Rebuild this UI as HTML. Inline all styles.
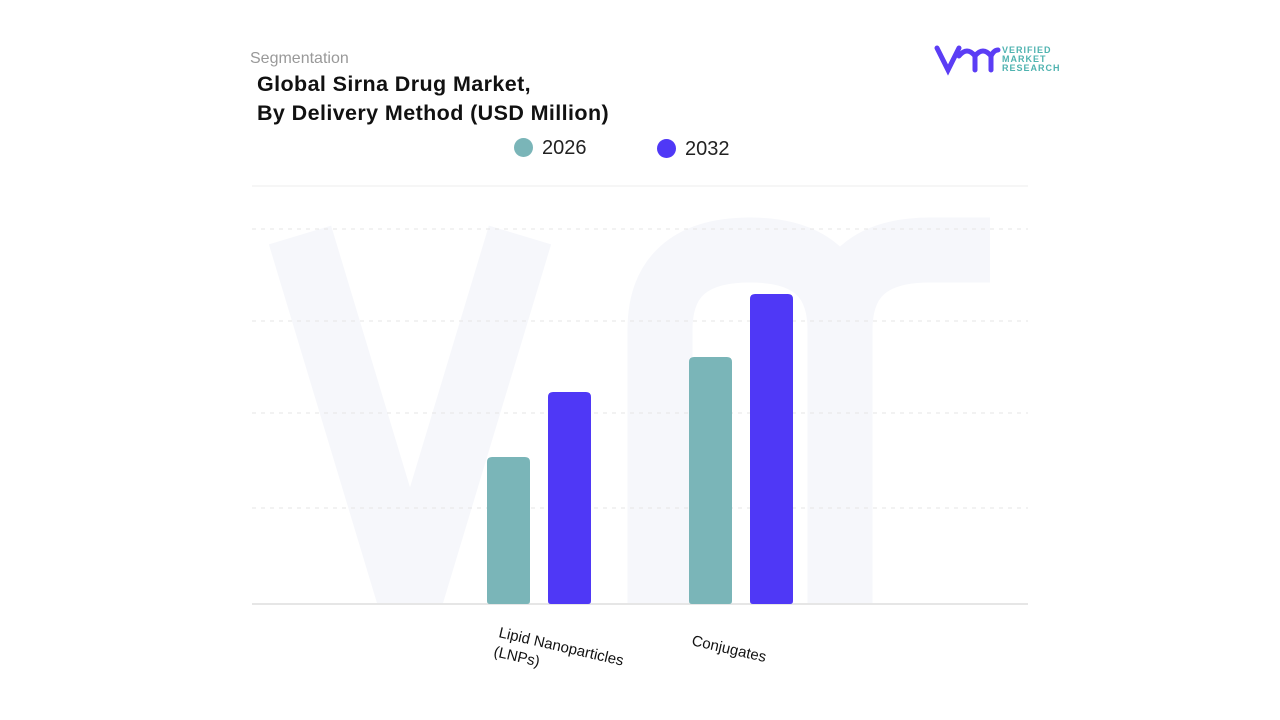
<!DOCTYPE html>
<html><head><meta charset="utf-8"><style>
body{margin:0;width:1280px;height:720px;background:#fff;font-family:"Liberation Sans",sans-serif;overflow:hidden;position:relative}
.t{position:absolute}
</style></head><body>
<div class="t" style="left:250px;top:50px;font-size:16px;color:#999">Segmentation</div>
<div class="t" style="left:257px;top:70px;font-size:21.5px;font-weight:bold;color:#111;line-height:29px;letter-spacing:0.4px">Global Sirna Drug Market,<br>By Delivery Method (USD Million)</div>
<svg class="t" style="left:934px;top:42px" width="130" height="34">
<path d="M3 6 L14 28 L25 6 M25 14 Q33 4 41 14 L41 28 M41 14 Q49 4 57 14 L57 28 M57 14 Q60 8 64 8" stroke="#5b3df5" stroke-width="5" fill="none" stroke-linecap="round"/>
<text x="68" y="11" font-size="9" fill="#4fb3b0" font-weight="bold" letter-spacing="1" font-family="Liberation Sans">VERIFIED</text>
<text x="68" y="20" font-size="9" fill="#4fb3b0" font-weight="bold" letter-spacing="1" font-family="Liberation Sans">MARKET</text>
<text x="68" y="29" font-size="9" fill="#4fb3b0" font-weight="bold" letter-spacing="1" font-family="Liberation Sans">RESEARCH</text>
</svg>
<div class="t" style="left:514px;top:137px;font-size:20px;color:#222"><span style="display:inline-block;width:19px;height:19px;border-radius:50%;background:#7ab5b8;vertical-align:-3px;margin-right:9px"></span>2026</div>
<div class="t" style="left:657px;top:138px;font-size:20px;color:#222"><span style="display:inline-block;width:19px;height:19px;border-radius:50%;background:#4f38f6;vertical-align:-3px;margin-right:9px"></span>2032</div>
<svg id="c" class="t" style="left:0;top:0" width="1280" height="720"><defs><clipPath id="cp"><rect x="250" y="190" width="780" height="414"/></clipPath></defs></svg>
<script>
const categories=["Lipid Nanoparticles (LNPs)","Conjugates"];
const series2026=[147,247];
const series2032=[212,310];
const gridVals=[96,191,283,375];
const ns="http://www.w3.org/2000/svg",svg=document.getElementById('c');
const base=604,x0=252,x1=1028;
const y=v=>base-v;
const cx=i=>539+i*202;
function mk(t,a){const e=document.createElementNS(ns,t);for(const k in a)e.setAttribute(k,a[k]);svg.appendChild(e);return e;}
const wm=mk('path',{d:"M300 235 L410 600 L520 235 M660 620 L660 330 Q660 250 750 250 Q840 250 840 330 L840 620 M840 330 Q840 250 930 250 L990 250",stroke:"#f6f7fb","stroke-width":"65",fill:"none","clip-path":"url(#cp)"});

let g=mk('line',{x1:x0,x2:x1,y1:186,y2:186,stroke:"#eee","stroke-width":1});

gridVals.forEach(v=>{const l=mk('line',{x1:x0,x2:x1,y1:y(v),y2:y(v),stroke:"#e6e6e6","stroke-width":1,"stroke-dasharray":"4 5"});
});
const b=mk('line',{x1:x0,x2:x1,y1:base,y2:base,stroke:"#e6e6e6","stroke-width":2});

categories.forEach((c,i)=>{
 [[series2026[i],-52,"#7ab5b8","2026"],[series2032[i],9,"#4f38f6","2032"]].forEach(([v,o,col,s])=>{
  const r=mk('path',{d:`M${cx(i)+o} ${base} V${y(v)+5} Q${cx(i)+o} ${y(v)} ${cx(i)+o+5} ${y(v)} H${cx(i)+o+38} Q${cx(i)+o+43} ${y(v)} ${cx(i)+o+43} ${y(v)+5} V${base-3} Q${cx(i)+o+43} ${base} ${cx(i)+o+40} ${base} H${cx(i)+o+3} Q${cx(i)+o} ${base} ${cx(i)+o} ${base-3}Z`,fill:col});
  
 });
});
const l1=mk('text',{transform:"translate(498,637) rotate(13)","font-size":"15",fill:"#111","font-family":"Liberation Sans"});
l1.textContent="Lipid Nanoparticles";
const l1b=mk('text',{transform:"translate(493,656) rotate(13)","font-size":"15",fill:"#111","font-family":"Liberation Sans"});
l1b.textContent="(LNPs)";
const l2=mk('text',{transform:"translate(691,645) rotate(13)","font-size":"15",fill:"#111","font-family":"Liberation Sans"});
l2.textContent=categories[1];
</script>
</body></html>
